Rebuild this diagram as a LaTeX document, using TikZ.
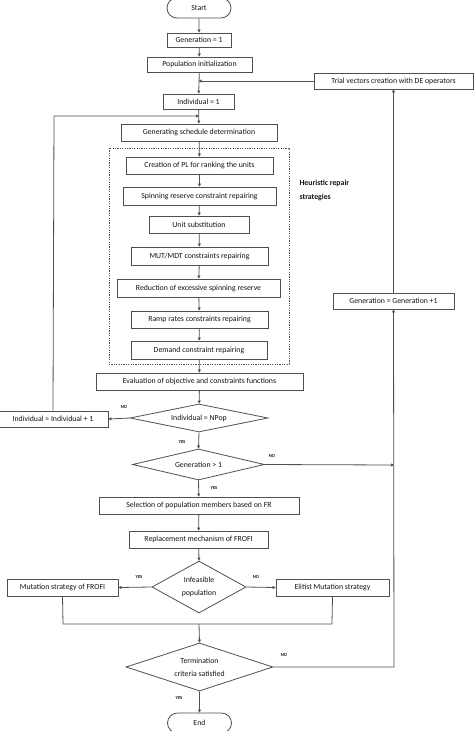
\documentclass[tikz,border=0pt]{standalone}
\usepackage{fontspec}
\setmainfont{Carlito}
\usetikzlibrary{shapes.geometric,shapes.misc,arrows.meta}
\definecolor{ln}{HTML}{505050}
\definecolor{tx}{HTML}{141414}
\begin{document}
\begin{tikzpicture}[x=1pt,y=-1pt,
  every node/.style={text=tx,font=\fontsize{7.8}{9.4}\selectfont},
  box/.style={draw=ln,line width=0.8pt,fill=white,inner sep=0pt,rectangle},
  term/.style={draw=ln,line width=0.8pt,fill=white,inner sep=0pt,rounded rectangle,minimum width=64pt,minimum height=20pt},
  dia/.style={draw=ln,line width=0.8pt,fill=white,inner sep=0pt,diamond,align=center},
  lbl/.style={font=\bfseries\fontsize{4.6}{5}\selectfont},
  arr/.style={draw=ln,line width=0.8pt,-{Triangle[length=3pt,width=3pt]}},
  con/.style={draw=ln,line width=0.8pt}]
\useasboundingbox (0,0) rectangle (474,731);
\fill[white] (0,0) rectangle (474,731);
% dashed box
\draw[ln,line width=0.6pt,dash pattern=on 1.2pt off 1.2pt] (109,148) rectangle (289,364);
\node[anchor=west,align=left,font=\bfseries\fontsize{7.8}{14}\selectfont] (heur) at (296,190) {Heuristic repair\\strategies};
% nodes
\node[term] (start) at (199,8) {Start};
\node[box,minimum width=64pt,minimum height=14pt] (gen1) at (199,40) {Generation = 1};
\node[box,minimum width=105pt,minimum height=15pt] (popinit) at (199.5,64.5) {Population initialization};
\node[box,minimum width=159pt,minimum height=16pt] (trial) at (393.5,81) {Trial vectors creation with DE operators};
\node[box,minimum width=71pt,minimum height=15pt] (ind1) at (198.5,101.5) {Individual = 1};
\coordinate (loopin) at (199,116);
\node[box,minimum width=156pt,minimum height=17pt] (gsched) at (199,132.5) {Generating schedule determination};
\node[box,minimum width=147pt,minimum height=17pt] (creat) at (199.5,165.5) {Creation of PL for ranking the units};
\node[box,minimum width=153pt,minimum height=18pt] (spin) at (199.5,196) {Spinning reserve constraint repairing};
\node[box,minimum width=100pt,minimum height=17pt] (usub) at (199,224.5) {Unit substitution};
\node[box,minimum width=137pt,minimum height=18pt] (mut) at (199.5,256) {MUT/MDT constraints repairing};
\node[box,minimum width=163pt,minimum height=18pt] (red) at (198.5,288) {Reduction of excessive spinning reserve};
\node[box,minimum width=137pt,minimum height=17pt] (ramp) at (199.5,319.5) {Ramp rates constraints repairing};
\node[box,minimum width=136pt,minimum height=18pt] (dem) at (199,350) {Demand constraint repairing};
\node[box,minimum width=121pt,minimum height=16pt] (gplus) at (393.5,301) {Generation = Generation +1};
\node[box,minimum width=207pt,minimum height=17pt] (eval) at (199.5,381.5) {Evaluation of objective and constraints functions};
\node[dia,aspect=4.9,minimum width=138pt,minimum height=28pt] (npop) at (199,418) {Individual = NPop};
\node[box,minimum width=110pt,minimum height=16pt] (iinc) at (53,419) {Individual = Individual + 1};
\node[dia,aspect=4.25,minimum width=132pt,minimum height=31pt] (g1) at (198.5,464.5) {Generation > 1};
\node[box,minimum width=200pt,minimum height=17pt] (sel) at (199,505.5) {Selection of population members based on FR};
\node[box,minimum width=139pt,minimum height=17pt] (rep) at (198.5,539.5) {Replacement mechanism of FROFI};
\node[dia,aspect=1.8,minimum width=94pt,minimum height=52pt,font=\fontsize{7.8}{13}\selectfont] (inf) at (199,587) {Infeasible\\population};
\node[box,minimum width=111pt,minimum height=17pt] (mfro) at (62.5,587.5) {Mutation strategy of FROFI};
\node[box,minimum width=113pt,minimum height=17pt] (elit) at (332.5,587.5) {Elitist Mutation strategy};
\node[dia,aspect=3.06,minimum width=147pt,minimum height=48pt,font=\fontsize{7.8}{13}\selectfont] (termc) at (199.5,667) {Termination\\criteria satisfied};
\node[term] (end) at (199.5,723) {End};
% coordinates
\coordinate (rj) at (394,465);
\coordinate (rb) at (394,667);
\coordinate (mj) at (199,624);
\coordinate (ml) at (63,624);
\coordinate (mr) at (332,624);
\coordinate (ll) at (54,116);
% connectors
\draw[arr] (start) -- (gen1);
\draw[arr] (gen1) -- (popinit);
\draw[arr] (popinit) -- (ind1);
\draw[arr] (trial.west) -- (trial.west -| ind1);
\draw[arr] (iinc.north) -- (ll) -- (loopin);
\draw[arr] (ind1) -- (gsched);
\draw[arr] (gsched) -- (creat);
\draw[arr] (creat) -- (spin);
\draw[arr] (spin) -- (usub);
\draw[arr] (usub) -- (mut);
\draw[arr] (mut) -- (red);
\draw[arr] (red) -- (ramp);
\draw[arr] (ramp) -- (dem);
\draw[arr] (dem) -- (eval);
\draw[arr] (eval) -- (npop);
\draw[arr] (npop.west) -- (iinc.east);
\draw[arr] (npop.south) -- (g1.north);
\draw[arr] (g1.east) -- (rj);
\draw[arr] (g1.south) -- (sel);
\draw[arr] (sel) -- (rep);
\draw[arr] (rep) -- (inf.north);
\draw[arr] (inf.west) -- (mfro.east);
\draw[arr] (inf.east) -- (elit.west);
\draw[con] (mfro.south) -- (ml) -- (mr) -- (elit.south);
\draw[arr] (mj) -- (termc.north);
\draw[arr] (termc.east) -- (rb) -- (gplus.south);
\draw[arr] (gplus.north) -- (trial.south);
\draw[arr] (termc.south) -- (end);
% labels
\node[lbl] (l1) at (124,407) {NO};
\node[lbl] (l2) at (182,442) {YES};
\node[lbl] (l3) at (272,456) {NO};
\node[lbl] (l4) at (214,488) {YES};
\node[lbl] (l5) at (139,577) {YES};
\node[lbl] (l6) at (256,577) {NO};
\node[lbl] (l7) at (284,655) {NO};
\node[lbl] (l8) at (179,698) {YES};
\end{tikzpicture}
\end{document}
